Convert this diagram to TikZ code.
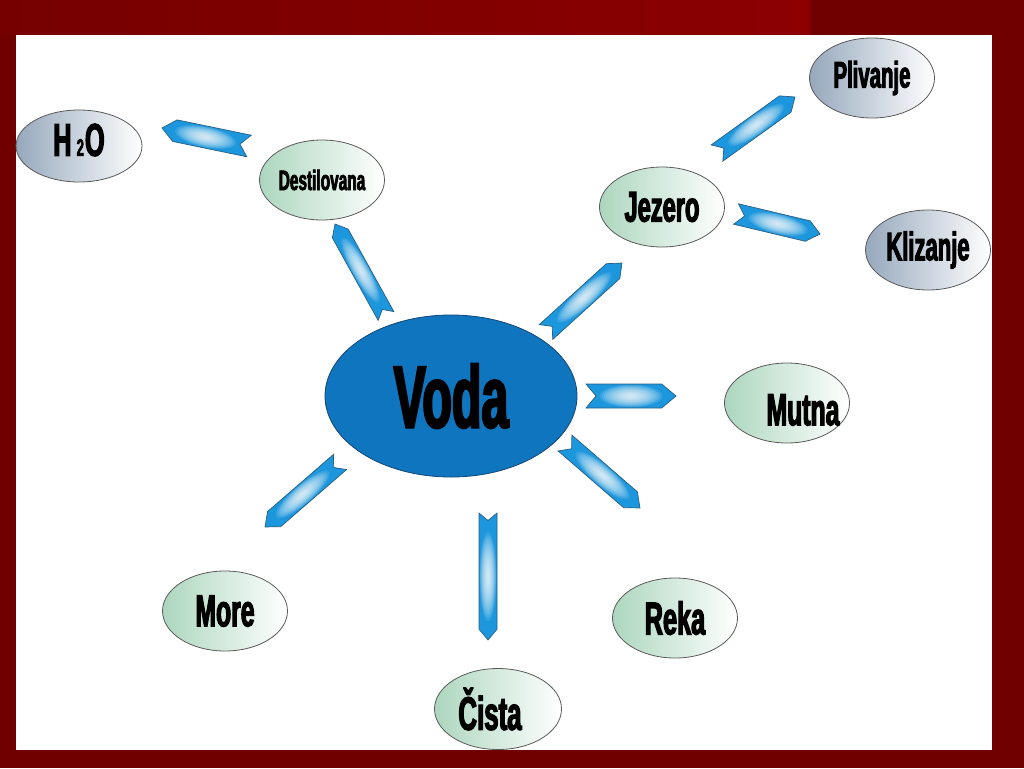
\documentclass[tikz,border=0pt]{standalone}
\usepackage{fontspec}
\newfontfamily\impact{Liberation Sans}[FakeStretch=0.55,BoldFeatures={FakeBold=2.5}]
\usetikzlibrary{decorations.markings,shapes.geometric}
\definecolor{borderdark}{RGB}{112,0,0}
\definecolor{barL}{RGB}{118,0,0}
\definecolor{barR}{RGB}{140,0,0}
\definecolor{vodablue}{RGB}{14,117,190}
\definecolor{vodaedge}{RGB}{20,70,120}
\definecolor{ellgreen}{RGB}{172,214,190}
\definecolor{ellgray}{RGB}{150,168,188}
\definecolor{ribbonblue}{RGB}{28,150,220}
\definecolor{ribbonedge}{RGB}{40,95,130}
\definecolor{elledge}{RGB}{90,90,90}
\newcommand\lbl[1]{\makebox[0pt]{#1}}
\newcommand\ribbonshape[1]{%
  \pgfmathsetmacro\rL{\pgfdecoratedpathlength/2}%
  \pgfmathsetmacro\rW{#1/2}%
  \pgfmathsetmacro\rA{\rL-0.6*#1}%
  \pgfmathsetmacro\rN{-\rL+0.42*#1}%
  \def\rpath{(-\rL pt,\rW pt) -- (\rA pt,\rW pt) -- (\rL pt,0pt) -- (\rA pt,-\rW pt) -- (-\rL pt,-\rW pt) -- (\rN pt,0pt) -- cycle}%
  \fill[ribbonblue] \rpath;
  \begin{scope}
    \clip \rpath;
    \foreach \k in {1,...,14}{%
      \pgfmathsetmacro\ex{\rL*(0.75-0.048*\k)}%
      \pgfmathsetmacro\ey{\rW*(1.0-0.062*\k)}%
      \fill[white,opacity=0.11] (0pt,0pt) ellipse [x radius=\ex pt, y radius=\ey pt];
    }
  \end{scope}
  \draw[ribbonedge,line width=0.7pt,line join=miter] \rpath;
}
\tikzset{
  ribbon/.style={decoration={markings,mark=at position 0.5 with {\ribbonshape{#1}}},decorate},
  fs/.style={font=\impact\bfseries\fontsize{#1}{#1}\selectfont},
  bubble/.style={ellipse,draw=elledge,line width=0.8pt,inner sep=0pt,
    minimum width=125pt,minimum height=80pt,text=black,fs=42pt},
  greenbub/.style={bubble,left color=ellgreen,right color=white},
  graybub/.style={bubble,left color=ellgray,right color=white},
}
\begin{document}
\begin{tikzpicture}[x=1pt,y=-1pt]
\useasboundingbox (0,0) rectangle (1024,768);
% frame
\fill[borderdark] (0,0) rectangle (1024,768);
\shade[left color=barL,right color=barR] (0,0) rectangle (810,35);
\fill[white] (16,35) rectangle (992,750);
% nodes
\node[ellipse,draw=vodaedge,line width=0.8pt,fill=vodablue,inner sep=0pt,
  minimum width=252pt,minimum height=162pt,fs=88pt,text=black] (voda) at (451,396) {\lbl{Voda}};
\node[graybub,minimum width=126pt,minimum height=72pt,fs=46pt] (h2o) at (79,146)
  {\lbl{\raisebox{6pt}[\height][\depth]{H\hspace{5pt}{\fontsize{24pt}{24pt}\selectfont 2}\hspace{1pt}O}}};
\node[greenbub,fs=28pt] (destil) at (322,180) {\lbl{Destilovana}};
\node[greenbub,fs=43pt] (jezero) at (662,207) {\lbl{Jezero}};
\node[graybub,fs=37pt] (pliv) at (872,78) {\lbl{Plivanje}};
\node[graybub,fs=40pt] (kliz) at (928,250) {\lbl{Klizanje}};
\node[greenbub,fs=45pt] (mutna) at (787,403) {\lbl{\raisebox{-7pt}[\height][\depth]{\hspace*{32pt}Mutna}}};
\node[greenbub,fs=46pt] (reka) at (675,618) {\lbl{Reka}};
\node[greenbub,fs=45pt] (more) at (225,611) {\lbl{More}};
\node[greenbub,minimum width=127pt,minimum height=81pt,fs=47pt] (cista) at (498,709) {\lbl{Čista\hspace*{16pt}}};
% ribbon arrow end points
\coordinate (tH) at (249,146); \coordinate (hH) at (162,128);
\coordinate (tD) at (386,316); \coordinate (hD) at (335,224);
\coordinate (tJ) at (546,332); \coordinate (hJ) at (622,263);
\coordinate (tP) at (717,153); \coordinate (hP) at (795,97);
\coordinate (tK) at (736,214); \coordinate (hK) at (820,234);
\coordinate (tM) at (586,396); \coordinate (hM) at (676,396);
\coordinate (tR) at (565,443); \coordinate (hR) at (640,508);
\coordinate (tC) at (488,513); \coordinate (hC) at (488,640);
\coordinate (tO) at (340,462); \coordinate (hO) at (265,527);
% ribbon arrows
\path[ribbon=22] (tH) -- (hH);
\path[ribbon=18] (tD) -- (hD);
\path[ribbon=20] (tJ) -- (hJ);
\path[ribbon=20] (tP) -- (hP);
\path[ribbon=21] (tK) -- (hK);
\path[ribbon=24] (tM) -- (hM);
\path[ribbon=21] (tR) -- (hR);
\path[ribbon=18] (tC) -- (hC);
\path[ribbon=20] (tO) -- (hO);
\end{tikzpicture}
\end{document}
